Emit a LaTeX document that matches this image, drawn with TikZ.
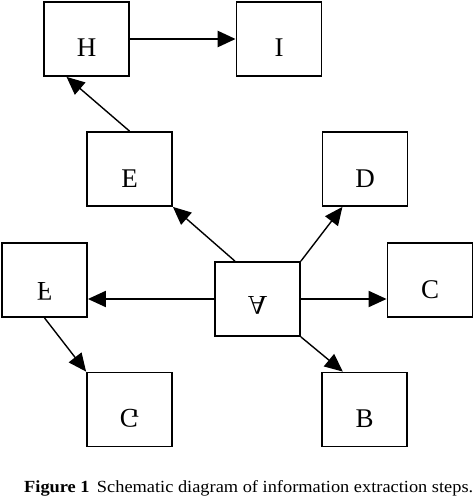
\documentclass[tikz,border=0pt]{standalone}
\usepackage{fontspec}
\setmainfont{Liberation Serif}
\usetikzlibrary{arrows.meta,calc}
\begin{document}
\begin{tikzpicture}[x=1pt,y=-1pt,
  stepbox/.style={draw=black,line width=1.8pt,minimum width=85pt,minimum height=74pt,inner sep=0pt,fill=white},
  lbl/.style={font=\fontsize{27}{30}\selectfont,inner sep=0pt},
  conn/.style={line width=1.4pt,-{Triangle[length=18pt,width=16pt]}},
  hconn/.style={line width=2pt,-{Triangle[length=18pt,width=16pt]}},
  tconn/.style={line width=2.6pt,-{Triangle[length=18pt,width=16pt]}}]
\useasboundingbox (0,0) rectangle (474,497);
\node[stepbox,label={[lbl,yshift=-9pt]center:H}] (H) at (86.5,39) {};
\node[stepbox,label={[lbl,yshift=-9pt]center:I}] (I) at (279,39) {};
\node[stepbox,label={[lbl,yshift=-10pt]center:E}] (E) at (129.5,169) {};
\node[stepbox,label={[lbl,yshift=-10pt]center:D}] (D) at (365,169) {};
\node[stepbox,label={[lbl,yshift=-11pt]center:\scalebox{1}[-1]{F}}] (F) at (44.5,280) {};
\node[stepbox,label={[lbl,yshift=-6pt]center:\scalebox{1}[-1]{A}}] (A) at (257.5,299) {};
\node[stepbox,label={[lbl,yshift=-10pt]center:C}] (C) at (430,280) {};
\node[stepbox,label={[lbl,yshift=-9pt]center:\scalebox{1}[-1]{G}}] (G) at (129.5,409.5) {};
\node[stepbox,label={[lbl,yshift=-9pt]center:B}] (B) at (364.5,409.5) {};
\draw[tconn] (H.east) -- (I.west);
\draw[conn] (E.north) -- ($(H.south west)!0.27!(H.south east)$);
\draw[conn] ($(A.north west)!0.24!(A.north east)$) -- (E.south east);
\draw[conn] (A.north east) -- ($(D.south west)!0.24!(D.south east)$);
\draw[conn] (A.south east) -- ($(B.north west)!0.25!(B.north east)$);
\draw[conn] (F.south) -- (G.north west);
\draw[hconn] (A.west) -- (A.west -| F.east);
\draw[hconn] (A.east) -- (A.east -| C.west);
\node[anchor=base west,inner sep=0pt,font=\fontsize{17}{19}\selectfont] (cap) at (24,492) {\scalebox{1.08}[1]{\textbf{Figure 1}\hspace{0.4em}Schematic diagram of information extraction steps.}};
\end{tikzpicture}
\end{document}
